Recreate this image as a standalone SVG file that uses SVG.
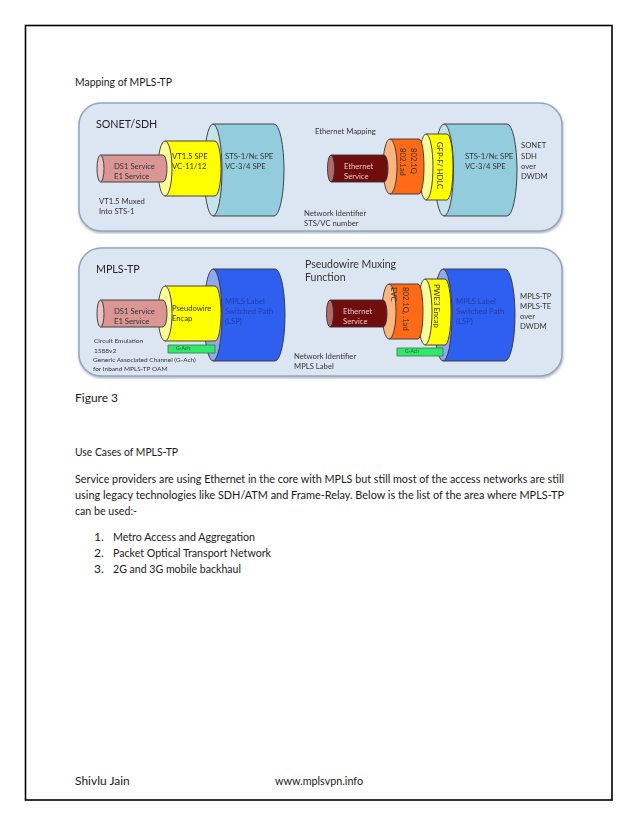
<svg xmlns="http://www.w3.org/2000/svg" width="638" height="826" viewBox="0 0 638 826">
<style>
text{font-family:Lato,"Liberation Sans",sans-serif;fill:#1a1a1a}
.b{font-size:12px}
.d{font-size:7.7px;fill:#333}
.s{font-size:6.5px;fill:#333}
.h{font-size:10.700px;fill:#222}
.w{font-size:7.7px;fill:#e8c9c9}
.u{font-size:7.7px;fill:#1f3fa8}
.gt{font-size:5px;fill:#1f5c2e}
.f{font-size:10.500px;fill:#333}
.p{fill:#dce6f2;stroke:#8ea6c4;stroke-width:1.5;filter:url(#sh)}
.c{stroke:#333;stroke-width:.9}
.t{fill:#93cddd}.te{fill:#c6e3ea}
.y{fill:#ffff00}.ye{fill:#ffff99}
.k{fill:#d99694}.ke{fill:#ecc4c3}
.o{fill:#ff6a13}.oe{fill:#fbb57e}
.r{fill:#6f0a0a}.re{fill:#b56a6a}
.l{fill:#2f5ff0}.le{fill:#8fa8f0}
.g{fill:#33e86a;stroke:#2d7a45;stroke-width:.8}
</style>
<defs>
<filter id="sh" x="-5%" y="-5%" width="110%" height="115%"><feDropShadow dx="0.5" dy="1.5" stdDeviation="1.2" flood-color="#555" flood-opacity=".45"/></filter>
<filter id="bl" x="-2%" y="-2%" width="104%" height="104%"><feGaussianBlur stdDeviation="0.3"/></filter>
</defs>
<rect width="638" height="826" fill="#fff"/>
<rect x="25.500" y="25.500" width="586.500" height="774.500" fill="none" stroke="#000" stroke-width="1.6"/>

<g id="page-text">
<text class="b" x="75" y="86" textLength="97" lengthAdjust="spacingAndGlyphs">Mapping of MPLS-TP</text>
<text class="b" x="75" y="402">Figure 3</text>
<text class="b" x="75" y="456" textLength="103" lengthAdjust="spacingAndGlyphs">Use Cases of MPLS-TP</text>
<text class="b" x="75" y="483" textLength="489" lengthAdjust="spacingAndGlyphs">Service providers are using Ethernet in the core with MPLS but still most of the access networks are still</text>
<text class="b" x="75" y="499" textLength="489" lengthAdjust="spacingAndGlyphs">using legacy technologies like SDH/ATM and Frame-Relay. Below is the list of the area where MPLS-TP</text>
<text class="b" x="75" y="515" textLength="62" lengthAdjust="spacingAndGlyphs">can be used:-</text>
<text class="b" x="94" y="541">1.</text><text class="b" x="113" y="541" textLength="142" lengthAdjust="spacingAndGlyphs">Metro Access and Aggregation</text>
<text class="b" x="94" y="557">2.</text><text class="b" x="113" y="557" textLength="158" lengthAdjust="spacingAndGlyphs">Packet Optical Transport Network</text>
<text class="b" x="94" y="573">3.</text><text class="b" x="113" y="573" textLength="128" lengthAdjust="spacingAndGlyphs">2G and 3G mobile backhaul</text>
<text class="b" x="75" y="785">Shivlu Jain</text>
<text class="b" x="275" y="785" textLength="88" lengthAdjust="spacingAndGlyphs">www.mplsvpn.info</text>
</g>

<g id="panel-sonet" filter="url(#bl)">
<rect class="p" x="79" y="103" width="483" height="128" rx="22"/>
<g id="sonet-left">
<path class="c t" d="M213 124H274A10 46 0 0 1 274 216H213Z"/><ellipse class="c te" cx="213" cy="170" rx="9" ry="46"/>
<path class="c y" d="M165 141H215A6 27.500 0 0 1 215 196H165Z"/><ellipse class="c ye" cx="165" cy="168.500" rx="7" ry="27.500"/>
<path class="c k" d="M100.500 155H163A4 13.500 0 0 1 163 182H100.500Z"/><ellipse class="c ke" cx="100.500" cy="168.500" rx="3.500" ry="13.500"/>
<text class="d" x="114" y="169">DS1 Service</text><text class="d" x="114" y="179">E1 Service</text>
<text class="d" x="172" y="158.500">VT1.5 SPE</text><text class="d" x="172" y="169">VC-11/12</text>
<text class="d" x="225" y="158.500">STS-1/Nc SPE</text><text class="d" x="225" y="169">VC-3/4 SPE</text>
</g>
<g id="sonet-right">
<path class="c t" d="M444 124H507A10 46 0 0 1 507 216H444Z"/><ellipse class="c te" cx="444" cy="170" rx="9.500" ry="46"/>
<path class="c y" d="M426 134H447A6 33 0 0 1 447 200H426Z"/><ellipse class="c ye" cx="426" cy="167" rx="7" ry="33"/>
<path class="c o" d="M390 139H419A5 27.500 0 0 1 419 194H390Z"/><ellipse class="c oe" cx="390" cy="166.500" rx="7" ry="27.500"/>
<path class="c r" d="M331 155H384A4 13.500 0 0 1 384 182H331Z"/><ellipse class="c re" cx="331" cy="168.500" rx="3.500" ry="13.500"/>
<text class="w" x="344" y="169">Ethernet</text><text class="w" x="344" y="179">Service</text>
<text class="d" transform="translate(411 148) rotate(90)">802.1Q</text>
<text class="d" transform="translate(400 148) rotate(90)">802.1ad</text>
<text class="d" transform="translate(437 142) rotate(90)">GFP-F/ HDLC</text>
<text class="d" x="465" y="158.500">STS-1/Nc SPE</text><text class="d" x="465" y="169">VC-3/4 SPE</text>
</g>
<text class="h" x="96" y="128">SONET/SDH</text>
<text class="d" x="315" y="134">Ethernet Mapping</text>
<text class="d" x="99" y="204">VT1.5 Muxed</text><text class="d" x="99" y="214">Into STS-1</text>
<text class="d" x="304" y="216">Network Identifier</text><text class="d" x="304" y="226">STS/VC number</text>
<text class="d" x="521" y="148">SONET</text><text class="d" x="521" y="158.500">SDH</text><text class="d" x="521" y="169">over</text><text class="d" x="521" y="179">DWDM</text>
</g>

<g id="panel-mpls" filter="url(#bl)">
<rect class="p" x="79" y="248" width="483" height="128" rx="22"/>
<g id="mpls-left">
<path class="c l" d="M213 269H275A10 46 0 0 1 275 361H213Z"/><ellipse class="c le" cx="213" cy="315" rx="9" ry="46"/>
<path class="c g" d="M168 345H215V353H168Z"/>
<path class="c y" d="M165 286H215A6 27.500 0 0 1 215 341H165Z"/><ellipse class="c ye" cx="165" cy="313.500" rx="7" ry="27.500"/>
<path class="c k" d="M100.500 300H163A4 13.500 0 0 1 163 327H100.500Z"/><ellipse class="c ke" cx="100.500" cy="313.500" rx="3.500" ry="13.500"/>
<text class="d" x="114" y="314">DS1 Service</text><text class="d" x="114" y="324">E1 Service</text>
<text class="d" x="172" y="311">Pseudowire</text><text class="d" x="172" y="321">Encap</text>
<text class="u" x="225" y="304">MPLS Label</text><text class="u" x="225" y="314">Switched Path</text><text class="u" x="225" y="324">(LSP)</text>
<text class="gt" x="176" y="350">G-Ach</text>
</g>
<g id="mpls-right">
<path class="c l" d="M443 269H505A10 46 0 0 1 505 361H443Z"/><ellipse class="c le" cx="443" cy="315" rx="9" ry="46"/>
<path class="c g" d="M397 348H443V356H397Z"/>
<path class="c y" d="M425 279H445A6 33 0 0 1 445 345H425Z"/><ellipse class="c ye" cx="425" cy="312" rx="7" ry="33"/>
<path class="c o" d="M389 284H418A5 27.500 0 0 1 418 339H389Z"/><ellipse class="c oe" cx="389" cy="311.500" rx="7" ry="27.500"/>
<path class="c r" d="M330 300H383A4 13.500 0 0 1 383 327H330Z"/><ellipse class="c re" cx="330" cy="313.500" rx="3.500" ry="13.500"/>
<text class="w" x="343" y="314">Ethernet</text><text class="w" x="343" y="324">Service</text>
<text class="d" transform="translate(403 287) rotate(90)">802.1Q, .1ad</text>
<text class="d" transform="translate(391 287) rotate(90)">EVC</text>
<text class="d" transform="translate(434 284) rotate(90)">PWE3 Encap</text>
<text class="u" x="456" y="304">MPLS Label</text><text class="u" x="456" y="314">Switched Path</text><text class="u" x="456" y="324">(LSP)</text>
<text class="gt" x="405" y="353">G-Ach</text>
</g>
<text class="h" x="96" y="273">MPLS-TP</text>
<text class="f" x="305" y="268">Pseudowire Muxing</text><text class="f" x="305" y="281">Function</text>
<text class="s" x="94" y="343">Circuit Emulation</text><text class="s" x="94" y="353">1588v2</text>
<text class="s" x="93" y="362">Generic Associated Channel (G-Ach)</text><text class="s" x="93" y="371">for Inband MPLS-TP OAM</text>
<text class="d" x="294" y="359">Network Identifier</text><text class="d" x="294" y="369">MPLS Label</text>
<text class="d" x="520" y="299">MPLS-TP</text><text class="d" x="520" y="309">MPLS-TE</text><text class="d" x="520" y="319">over</text><text class="d" x="520" y="329">DWDM</text>
</g>
</svg>
